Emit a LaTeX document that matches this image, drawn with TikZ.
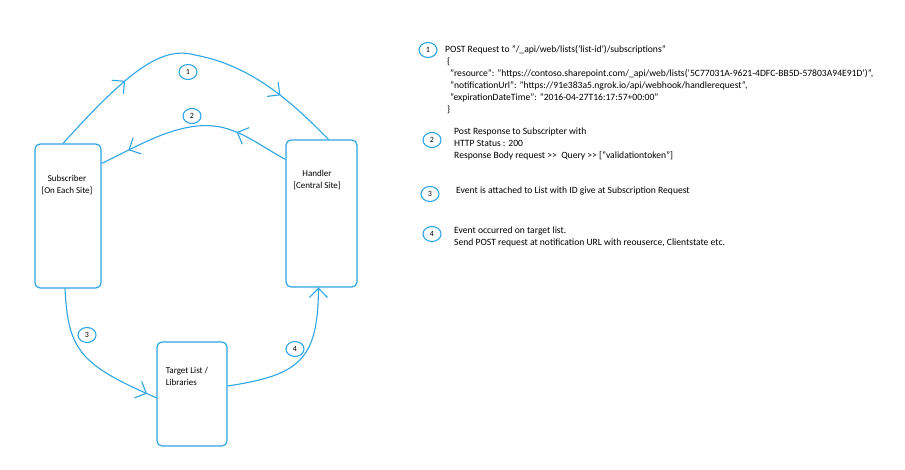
\documentclass[tikz,border=0pt]{standalone}
\usepackage{fontspec}
\setmainfont{Carlito}
\usetikzlibrary{arrows.meta,decorations.markings}
\definecolor{sp_blue}{RGB}{45,165,230}
\tikzset{
  box/.style={draw=sp_blue, line width=1.2pt, rounded corners=5pt, fill=white},
  flow/.style={draw=sp_blue, line width=1.1pt},
  num/.style={draw=sp_blue, line width=1.1pt, ellipse, inner sep=1.5pt, minimum width=18pt, minimum height=15pt, font=\fontsize{8}{9}\selectfont},
  tipat/.style={postaction={decorate, decoration={markings,
    mark=at position #1 with {\arrow[sp_blue, line width=1.1pt]{Straight Barb[length=9pt,width=18pt]}}}}},
  note/.style={anchor=north west, align=left, inner sep=0pt, font=\fontsize{9.6}{12}\selectfont},
}
\usetikzlibrary{shapes.geometric}
\begin{document}
\begin{tikzpicture}[x=1pt, y=-1pt]
  \useasboundingbox (0,0) rectangle (905,469);

  % the three parties
  \node[box, minimum width=66pt, minimum height=144pt] (sub) at (68,216) {};
  \node[font=\fontsize{9}{12}\selectfont, align=center] (subtxt) at (67,185) {Subscriber\\{}[On Each Site]};
  \node[box, minimum width=71pt, minimum height=147pt] (hdl) at (321.5,213.5) {};
  \node[font=\fontsize{9}{12}\selectfont, align=center] (hdltxt) at (317,180) {Handler\\{}[Central Site]};
  \node[box, minimum width=70pt, minimum height=104pt] (tgt) at (192,394) {};
  \node[font=\fontsize{9}{12}\selectfont, align=left] (tgttxt) at (187,376) {Target List /\\Libraries};

  % connectors
  \draw[flow, tipat=0.27, tipat=0.8] ([xshift=-5pt]sub.north) .. controls (125,75) and (160,45) .. (195,55)
    .. controls (250,65) and (290,100) .. ([xshift=7pt]hdl.north);
  \draw[flow, tipat=0.28, tipat=0.85] ([yshift=-20pt]hdl.north west) .. controls (250,140) and (230,120) .. (190,127)
    .. controls (160,132) and (130,150) .. ([yshift=-20pt]sub.north east);
  \draw[flow, tipat=0.93] ([xshift=-3pt]sub.south) .. controls (68,350) and (80,365) .. (157,398);
  \draw[flow, tipat=1] ([yshift=8pt]tgt.east) .. controls (300,375) and (318,360) .. ([xshift=-3pt]hdl.south);

  % step numbers on the drawing
  \node[num] (n1) at (188,72) {1};
  \node[num] (n2) at (192,116) {2};
  \node[num] (n3) at (87,335) {3};
  \node[num] (n4) at (295,349) {4};

  % legend
  \node[num] (l1) at (428,50) {1};
  \node[num] (l2) at (432,140) {2};
  \node[num] (l3) at (430,194) {3};
  \node[num] (l4) at (432,234) {4};
  \node[note] (t1) at (445,45) {POST Request to "/\_api/web/lists('list-id')/subscriptions"\\
    \hspace*{2pt}\{\\
    \hspace*{5pt}"resource": "https://contoso.sharepoint.com/\_api/web/lists('5C77031A-9621-4DFC-BB5D-57803A94E91D')",\\
    \hspace*{5pt}"notificationUrl": "https://91e383a5.ngrok.io/api/webhook/handlerequest",\\
    \hspace*{5pt}"expirationDateTime": "2016-04-27T16:17:57+00:00"\\
    \hspace*{2pt}\}};
  \node[note] (t2) at (454,128) {Post Response to Subscripter with\\HTTP Status : 200\\Response Body request >{}> \ Query >{}> ["validationtoken"]};
  \node[note] (t3) at (456,187) {Event is attached to List with ID give at Subscription Request};
  \node[note] (t4) at (454,227) {Event occurred on target list.\\Send POST request at notification URL with reouserce, Clientstate etc.};
\end{tikzpicture}
\end{document}
